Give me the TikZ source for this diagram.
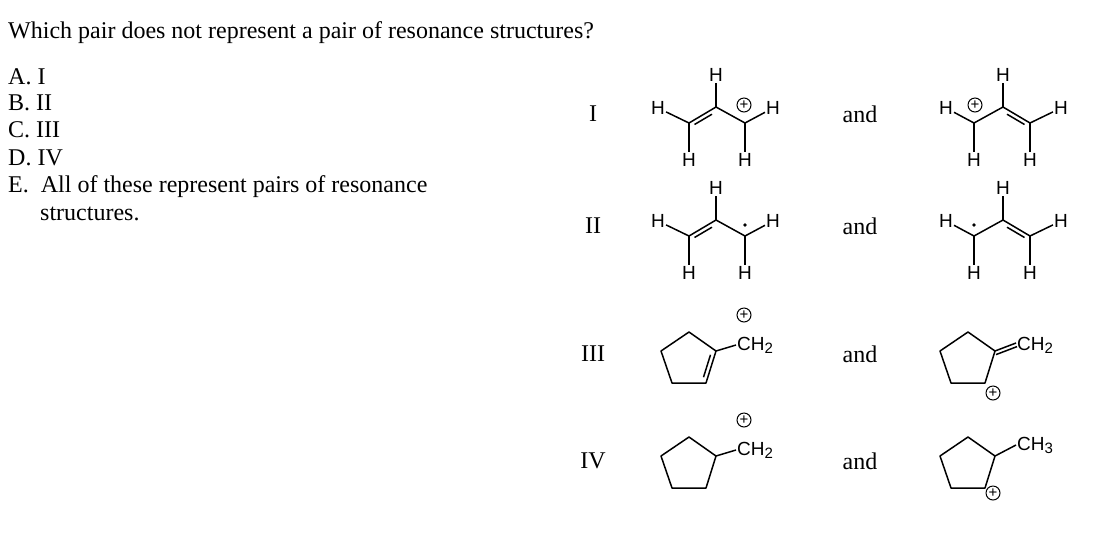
\documentclass[tikz,border=0pt]{standalone}
\usepackage{fontspec}
\setmainfont{Liberation Serif}
\setsansfont{Liberation Sans}
\usetikzlibrary{calc}
\tikzset{
  atm/.style={font=\sffamily\fontsize{19}{19}\selectfont,inner sep=1pt},
  txt/.style={font=\fontsize{24}{26}\selectfont,inner sep=0pt,anchor=west},
  bond/.style={line width=1.5pt},
  chg/.style={circle,draw,line width=1pt,inner sep=0pt,minimum size=14pt,font=\sffamily\fontsize{15}{15}\selectfont},
}
\newcommand{\plusc}{\raisebox{0.3pt}{+}}
\newcommand{\sub}[1]{\raisebox{-3pt}{\fontsize{15}{15}\selectfont #1}}
% allyl: prefix, x, y, mirror(1/-1), type (0 plus,1 dot)
\newcommand{\allyl}[5]{%
\begin{scope}[shift={(#2,#3)},xscale=#4]
 \coordinate (#1c2) at (0,0);
 \coordinate (#1c1) at (-27,16);
 \coordinate (#1c3) at (29,16);
 \node[atm] (#1ht) at (0,-32) {H};
 \node[atm] (#1hl) at (-58,1) {H};
 \node[atm] (#1hr) at (57,1) {H};
 \node[atm] (#1hb1) at (-27,53) {H};
 \node[atm] (#1hb3) at (29,53) {H};
 \draw[bond,line join=round] (#1c1) -- (#1c2) -- (#1c3);
 \draw[bond] (-21.5,17.5) -- (-4,7.2);
 \draw[bond] (#1c2) -- (#1ht);
 \draw[bond] (#1c1) -- (#1hl);
 \draw[bond] (#1c3) -- (#1hr);
 \draw[bond] (#1c1) -- (#1hb1);
 \draw[bond] (#1c3) -- (#1hb3);
 \ifnum#5=0 \node[chg] (#1q) at (28,-2) {\plusc};
 \else \fill (29,5) circle (1.8pt); \fi
\end{scope}}
\newcommand{\pent}[3]{%
\begin{scope}[shift={(#2,#3)}]
 \coordinate (#1a) at (689,332);
 \coordinate (#1b) at (716,351);
 \coordinate (#1c) at (706,383);
 \coordinate (#1d) at (672,383);
 \coordinate (#1e) at (661,351);
 \draw[bond,line join=round] (#1a)--(#1b)--(#1c)--(#1d)--(#1e)--cycle;
\end{scope}}
\begin{document}
\begin{tikzpicture}[x=1pt,y=-1pt]
\useasboundingbox (0,0) rectangle (1114,550);
\node[txt] (q) at (8,33) {Which pair does not represent a pair of resonance structures?};
\node[txt] (oa) at (8,77) {A.\ I};
\node[txt] (ob) at (8,103) {B.\ II};
\node[txt] (oc) at (8,130) {C.\ III};
\node[txt] (od) at (8,158) {D.\ IV};
\node[txt] (oe) at (8,187) {E.\ \ All of these represent pairs of resonance};
\node[txt] (oe2) at (40,214) {structures.};
\foreach \n/\y/\t in {r1/114/I,r2/226/II,r3/354/III,r4/461/IV}{
  \node[txt,anchor=center] (\n) at (593,\y) {\t};}
\foreach \n/\y in {a1/114,a2/226,a3/354,a4/461}{
  \node[txt,anchor=center] (\n) at (860,\y) {and};}
\allyl{L1}{716}{107}{1}{0}
\allyl{R1}{1003}{107}{-1}{0}
\allyl{L2}{716}{220}{1}{1}
\allyl{R2}{1003}{220}{-1}{1}
% III left
\pent{p3}{0}{0}
\draw[bond] ($(p3b)!0.15!(p3c)+(-4,-1)$) -- ($(p3b)!0.85!(p3c)+(-4,-1)$);
\node[atm,anchor=west] (p3ch) at (736,345) {CH\sub{2}};
\draw[bond] (p3b) -- (p3ch.west);
\node[chg] (p3q) at (744,315) {\plusc};
% III right
\pent{p3r}{279}{0}
\node[atm,anchor=west] (p3rch) at (1016,345) {CH\sub{2}};
\draw[bond] (p3rb) -- ($(p3rch.west)+(0,-2)$);
\draw[bond] ($(p3rb)+(1,3.6)$) -- ($(p3rch.west)+(1,1.6)$);
\node[chg] (p3rq) at (993,393) {\plusc};
% IV left
\pent{p4}{0}{105}
\node[atm,anchor=west] (p4ch) at (736,450) {CH\sub{2}};
\draw[bond] (p4b) -- (p4ch.west);
\node[chg] (p4q) at (744,420) {\plusc};
% IV right
\pent{p4r}{279}{105}
\node[atm,anchor=west] (p4rch) at (1016,445) {CH\sub{3}};
\draw[bond] (p4rb) -- (p4rch.west);
\node[chg] (p4rq) at (993,493) {\plusc};
\end{tikzpicture}
\end{document}
